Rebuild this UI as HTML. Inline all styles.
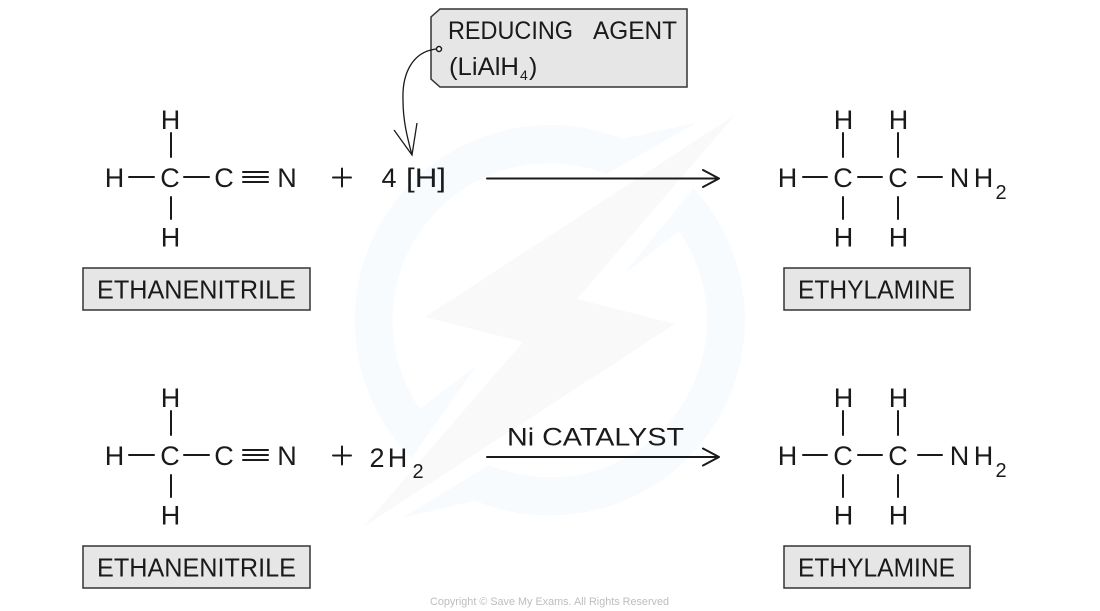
<!DOCTYPE html>
<html>
<head>
<meta charset="utf-8">
<style>
html,body{margin:0;padding:0;background:#fff;width:1100px;height:611px;overflow:hidden}
svg{display:block}
text{font-family:"Liberation Sans",sans-serif;fill:#1a1a1a}
.a{font-size:27px;text-anchor:middle}
.s{font-size:20px;text-anchor:middle}
.b{stroke:#1a1a1a;stroke-width:2;fill:none;stroke-linecap:round;stroke-linejoin:round}
.box{fill:#e6e6e6;stroke:#333;stroke-width:1.5}
</style>
</head>
<body>
<svg width="1100" height="611" viewBox="0 0 1100 611" xmlns="http://www.w3.org/2000/svg">
<!-- watermark -->
<path fill="#f7fbfe" d="M698 122L622.500 139A195.300 195.300 0 0 0 411.500 458L477 365L420 409A157 157 0 0 1 606.500 174Z"/>
<path fill="#f7fbfe" d="M693.500 188A195.300 195.300 0 0 1 475 500.600L402 518L489 465A157 157 0 0 0 679 231L623 275Z"/>
<polygon fill="#f9f9f9" points="735,115 577,299 675,324 363,527 523,342 425,317"/>

<!-- callout -->
<polygon class="box" points="440,9 687,9 687,87 440,87 431,79 431,17"/>
<text x="448" y="39" font-size="25" textLength="125" lengthAdjust="spacingAndGlyphs">REDUCING</text>
<text x="593" y="39" font-size="25" textLength="84" lengthAdjust="spacingAndGlyphs">AGENT</text>
<text x="449" y="75" font-size="25" textLength="70" lengthAdjust="spacingAndGlyphs">(LiAlH</text>
<text x="520" y="80" font-size="14">4</text>
<text x="529" y="75" font-size="25">)</text>
<circle cx="439" cy="49" r="2.500" fill="#fff" stroke="#1a1a1a" stroke-width="1.500"/>
<path d="M436 49C412 52 402 74 403 100C403 122 408 140 412 155" fill="none" stroke="#1a1a1a" stroke-width="1.300"/>
<path d="M394 130L412 155L417 123" fill="none" stroke="#1a1a1a" stroke-width="1.300"/>

<!-- row 1 left -->
<g>
<text class="a" x="170.500" y="129">H</text>
<text class="a" x="170.500" y="246.500">H</text>
<text class="a" x="114.500" y="187">H</text>
<text class="a" x="170" y="187">C</text>
<text class="a" x="224" y="187">C</text>
<text class="a" x="287" y="187">N</text>
<path class="b" d="M171 133V157M171 197V219M129 177H154M184 177H209M243 172H268M243 177H268M243 182H268"/>
<path class="b" d="M333 177.500H351M342 168.500V186.500"/>
<rect class="box" x="83" y="268" width="227" height="42"/>
<text x="97" y="298.500" font-size="26" textLength="199" lengthAdjust="spacingAndGlyphs">ETHANENITRILE</text>
</g>
<!-- row 2 left -->
<g transform="translate(0,278)">
<text class="a" x="170.500" y="129">H</text>
<text class="a" x="170.500" y="246.500">H</text>
<text class="a" x="114.500" y="187">H</text>
<text class="a" x="170" y="187">C</text>
<text class="a" x="224" y="187">C</text>
<text class="a" x="287" y="187">N</text>
<path class="b" d="M171 133V157M171 197V219M129 177H154M184 177H209M243 172H268M243 177H268M243 182H268"/>
<path class="b" d="M333 177.500H351M342 168.500V186.500"/>
<rect class="box" x="83" y="268" width="227" height="42"/>
<text x="97" y="298.500" font-size="26" textLength="199" lengthAdjust="spacingAndGlyphs">ETHANENITRILE</text>
</g>

<!-- middle -->
<text class="a" x="389" y="187">4</text>
<text x="406" y="187" font-size="27" textLength="40" lengthAdjust="spacingAndGlyphs">[H]</text>
<path class="b" d="M487 178.500H719M703 170L719 178.500L703 187"/>
<text class="a" x="377" y="467">2</text>
<text class="a" x="397.500" y="467">H</text>
<text class="s" x="418" y="478">2</text>
<text x="507" y="445.500" font-size="25" textLength="177" lengthAdjust="spacingAndGlyphs">Ni CATALYST</text>
<path class="b" d="M487 457H719M703 448.500L719 457L703 465.500"/>

<!-- row 1 right -->
<g>
<text class="a" x="843.500" y="129">H</text>
<text class="a" x="898.500" y="129">H</text>
<text class="a" x="843.500" y="246.500">H</text>
<text class="a" x="898.500" y="246.500">H</text>
<text class="a" x="787.500" y="187">H</text>
<text class="a" x="843" y="187">C</text>
<text class="a" x="898" y="187">C</text>
<text class="a" x="959.500" y="187">N</text>
<text class="a" x="983.500" y="187">H</text>
<text class="s" x="1001" y="199">2</text>
<path class="b" d="M843 133V157M898 133V157M843 197V219M898 197V219M803 177H827M858 177H882M918 177H942"/>
<rect class="box" x="784" y="268" width="186" height="42"/>
<text x="798" y="298.500" font-size="26" textLength="157" lengthAdjust="spacingAndGlyphs">ETHYLAMINE</text>
</g>
<!-- row 2 right -->
<g transform="translate(0,278)">
<text class="a" x="843.500" y="129">H</text>
<text class="a" x="898.500" y="129">H</text>
<text class="a" x="843.500" y="246.500">H</text>
<text class="a" x="898.500" y="246.500">H</text>
<text class="a" x="787.500" y="187">H</text>
<text class="a" x="843" y="187">C</text>
<text class="a" x="898" y="187">C</text>
<text class="a" x="959.500" y="187">N</text>
<text class="a" x="983.500" y="187">H</text>
<text class="s" x="1001" y="199">2</text>
<path class="b" d="M843 133V157M898 133V157M843 197V219M898 197V219M803 177H827M858 177H882M918 177H942"/>
<rect class="box" x="784" y="268" width="186" height="42"/>
<text x="798" y="298.500" font-size="26" textLength="157" lengthAdjust="spacingAndGlyphs">ETHYLAMINE</text>
</g>

<text x="430" y="605" font-size="11" textLength="239" lengthAdjust="spacingAndGlyphs" style="fill:#bdbdbd">Copyright © Save My Exams. All Rights Reserved</text>
</svg>
</body>
</html>
